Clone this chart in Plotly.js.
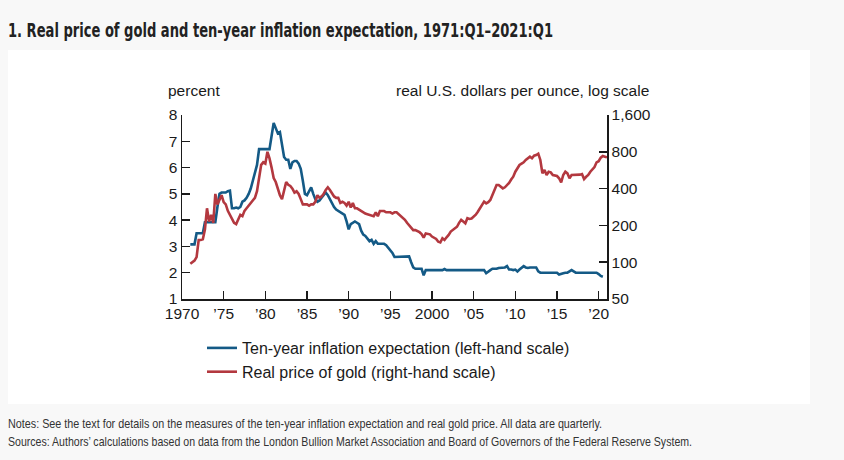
<!DOCTYPE html>
<html>
<head>
<meta charset="utf-8">
<script src="https://cdn.plot.ly/plotly-3.0.1.min.js"></script>
<style>
  html, body { margin: 0; padding: 0; background: #f8f8f8; }
  #chart { width: 844px; height: 460px; }
</style>
</head>
<body>
<div id="chart"></div>
<script>
// Quarterly series, first observation 1971:Q1
const startYear = 1971;

// Ten-year inflation expectation, percent (left-hand scale)
const inflationExpectation = [
  3.08, 3.08, 3.08, 3.5,   // 1971
  3.5, 3.5, 3.5, 3.92,     // 1972
  3.92, 3.92, 3.92, 3.92,  // 1973
  3.92, 4.5, 5.0, 5.05,    // 1974
  5.05, 5.05, 5.1, 5.12,   // 1975
  4.45, 4.45, 4.48, 4.45,  // 1976
  4.5, 4.7, 4.75, 4.85,    // 1977
  5.0, 5.2, 5.5, 5.8,      // 1978
  6.1, 6.7, 6.7, 6.7,      // 1979
  6.7, 6.7, 6.7, 7.2,      // 1980
  7.7, 7.5, 7.3, 7.35,     // 1981
  6.9, 6.4, 6.3, 6.3,      // 1982
  5.95, 6.2, 6.25, 6.25,   // 1983
  6.15, 5.95, 5.5, 5.0,    // 1984
  4.95, 5.1, 5.25, 5.0,    // 1985
  4.8, 4.7, 4.75, 4.85,    // 1986
  4.95, 5.05, 4.95, 4.8,   // 1987
  4.6, 4.5, 4.4, 4.35,     // 1988
  4.3, 4.25, 4.2, 3.95,    // 1989
  3.65, 3.85, 3.9, 3.95,   // 1990
  3.9, 3.85, 3.6, 3.45,    // 1991
  3.4, 3.3, 3.2, 3.25,     // 1992
  3.1, 3.2, 3.1, 3.1,      // 1993
  3.1, 3.1, 3.05, 2.95,    // 1994
  2.85, 2.75, 2.6, 2.6,    // 1995
  2.6, 2.6, 2.6, 2.6,      // 1996
  2.6, 2.62, 2.4, 2.2,     // 1997
  2.15, 2.15, 2.15, 2.15,  // 1998
  1.9, 2.1, 2.1, 2.1,      // 1999
  2.1, 2.1, 2.1, 2.1,      // 2000
  2.1, 2.1, 2.14, 2.1,     // 2001
  2.1, 2.1, 2.1, 2.08,     // 2002
  2.1, 2.1, 2.1, 2.1,      // 2003
  2.1, 2.08, 2.1, 2.1,     // 2004
  2.1, 2.1, 2.1, 2.1,      // 2005
  2.1, 2.1, 1.98, 2.05,    // 2006
  2.1, 2.15, 2.15, 2.15,   // 2007
  2.18, 2.18, 2.18, 2.2,   // 2008
  2.25, 2.12, 2.12, 2.1,   // 2009
  2.12, 2.05, 2.12, 2.18,  // 2010
  2.25, 2.2, 2.18, 2.2,    // 2011
  2.2, 2.2, 2.2, 2.05,     // 2012
  2.0, 2.0, 2.0, 2.0,      // 2013
  2.0, 2.0, 2.0, 2.0,      // 2014
  2.0, 1.93, 1.97, 1.98,   // 2015
  2.0, 2.0, 2.05, 2.1,     // 2016
  2.05, 2.0, 2.0, 2.0,     // 2017
  2.0, 2.0, 2.0, 2.0,      // 2018
  2.0, 2.0, 2.0, 2.0,      // 2019
  1.95, 1.88, 1.85         // 2020
];

// Real price of gold, real U.S. dollars per ounce (right-hand log scale)
const realGoldPrice = [
  97, 100, 103, 110,       // 1971
  152, 152, 154, 185,      // 1972
  276, 215, 244, 210,      // 1973
  362, 297, 320, 353,      // 1974
  310, 297, 263, 244,      // 1975
  221, 210, 205, 226,      // 1976
  244, 238, 263, 276,      // 1977
  290, 310, 320, 336,      // 1978
  381, 488, 625, 656,      // 1979
  640, 800, 707, 594,      // 1980
  488, 453, 400, 353,      // 1981
  328, 381, 453, 430,      // 1982
  420, 400, 371, 380,      // 1983
  362, 328, 297, 297,      // 1984
  297, 290, 297, 297,      // 1985
  312, 353, 336, 345,      // 1986
  362, 390, 410, 390,      // 1987
  371, 345, 336, 336,      // 1988
  305, 312, 305, 290,      // 1989
  312, 280, 305, 276,      // 1990
  276, 269, 262, 256,      // 1991
  250, 247, 244, 240,      // 1992
  238, 256, 238, 262,      // 1993
  262, 262, 256, 256,      // 1994
  256, 250, 256, 256,      // 1995
  247, 240, 230, 222,      // 1996
  210, 200, 189, 183,      // 1997
  183, 180, 176, 170,      // 1998
  159, 172, 170, 169,      // 1999
  162, 158, 155, 147,      // 2000
  145, 157, 152, 160,      // 2001
  167, 178, 183, 187,      // 2002
  195, 210, 222, 215,      // 2003
  208, 229, 226, 228,      // 2004
  236, 245, 259, 275,      // 2005
  294, 313, 303, 310,      // 2006
  323, 355, 400, 428,      // 2007
  428, 415, 402, 410,      // 2008
  428, 445, 475, 501,      // 2009
  550, 590, 624, 640,      // 2010
  656, 686, 708, 730,      // 2011
  708, 744, 753, 772,      // 2012
  686, 533, 568, 517,      // 2013
  550, 543, 517, 510,      // 2014
  507, 486, 450, 517,      // 2015
  550, 533, 486, 517,      // 2016
  517, 520, 517, 520,      // 2017
  526, 479, 500, 517,      // 2018
  550, 570, 600, 656,      // 2019
  670, 717, 740, 730,      // 2020
  720                      // 2021
];

// Axis ticks
const yearTicks = [1970, 1975, 1980, 1985, 1990, 1995, 2000, 2005, 2010, 2015, 2020];
const yearLabels = ["1970", "\u201975", "\u201980", "\u201985", "\u201990", "\u201995", "2000", "\u201905", "\u201910", "\u201915", "\u201920"];
const percentTicks = [1, 2, 3, 4, 5, 6, 7, 8];
const goldTicks = [50, 100, 200, 400, 800, 1600];
const goldLabels = ["50", "100", "200", "400", "800", "1,600"];

const titleText = "1. Real price of gold and ten-year inflation expectation, 1971:Q1\u20132021:Q1";
const notesText = "Notes: See the text for details on the measures of the ten-year inflation expectation and real gold price. All data are quarterly.";
const sourcesText = "Sources: Authors\u2019 calculations based on data from the London Bullion Market Association and Board of Governors of the Federal Reserve System.";

const quarterDate = i => startYear + i / 4;

const BLUE = "#145a86";
const RED = "#b3383f";
const INK = "#1a1a1a";
const sans = "Liberation Sans, Arial, sans-serif";
const heading = "DejaVu Sans, sans-serif";

// plot area in pixels: left 182, width 425, top 115, height 184
const px = v => (v - 182) / 425;
const py = v => (299 - v) / 184;

const traces = [
  {
    x: inflationExpectation.map((_, i) => quarterDate(i)),
    y: inflationExpectation,
    type: "scatter", mode: "lines",
    name: "Ten-year inflation expectation (left-hand scale)",
    line: { color: BLUE, width: 2.6 },
    yaxis: "y"
  },
  {
    x: realGoldPrice.map((_, i) => quarterDate(i)),
    y: realGoldPrice,
    type: "scatter", mode: "lines",
    name: "Real price of gold (right-hand scale)",
    line: { color: RED, width: 2.6 },
    yaxis: "y2"
  }
];

const axisCommon = {
  showgrid: false, zeroline: false,
  showline: true, linecolor: INK, linewidth: 1.5,
  ticks: "inside", ticklen: 8, tickwidth: 1.5, tickcolor: INK,
  tickfont: { family: sans, size: 15.5, color: INK }
};

const layout = {
  width: 844, height: 460,
  paper_bgcolor: "#f8f8f8",
  plot_bgcolor: "rgba(0,0,0,0)",
  margin: { l: 182, r: 237, t: 115, b: 161 },
  showlegend: true,
  legend: {
    x: px(202), y: py(331), xanchor: "left", yanchor: "top",
    bgcolor: "rgba(0,0,0,0)",
    font: { family: sans, size: 16, color: INK },
    tracegroupgap: 0, itemwidth: 30
  },
  title: {
    text: "<b>" + titleText + "</b>",
    font: { family: heading, size: 20, color: "#222" },
    xref: "container", yref: "container",
    x: 8 / 844, xanchor: "left",
    y: 1 - 30 / 460, yanchor: "middle"
  },
  xaxis: Object.assign({}, axisCommon, {
    range: [1970, 2021],
    tickmode: "array", tickvals: yearTicks, ticktext: yearLabels,
    ticklabelstandoff: 0
  }),
  yaxis: Object.assign({}, axisCommon, {
    range: [1, 8],
    tickmode: "array", tickvals: percentTicks,
    ticklabelstandoff: 0
  }),
  yaxis2: Object.assign({}, axisCommon, {
    type: "log", overlaying: "y", side: "right",
    range: [Math.log10(50), Math.log10(1600)],
    tickmode: "array", tickvals: goldTicks, ticktext: goldLabels,
    ticklabelstandoff: 0
  }),
  shapes: [
    {
      type: "rect", xref: "paper", yref: "paper", layer: "below",
      x0: px(8), x1: px(810), y0: py(404), y1: py(50),
      fillcolor: "#ffffff", line: { width: 0 }
    }
  ],
  annotations: [
    {
      text: "percent", xref: "paper", yref: "paper",
      x: px(166), y: py(90),
      xanchor: "left", yanchor: "middle", showarrow: false,
      font: { family: sans, size: 15.5, color: INK }
    },
    {
      text: "real U.S. dollars per ounce, log scale", xref: "paper", yref: "paper",
      x: px(651), y: py(90),
      xanchor: "right", yanchor: "middle", showarrow: false,
      font: { family: sans, size: 15.5, color: INK }
    },
    {
      text: notesText, xref: "paper", yref: "paper",
      x: px(6), y: py(423), align: "left",
      xanchor: "left", yanchor: "middle", showarrow: false,
      font: { family: sans, size: 13, color: "#333" }
    },
    {
      text: sourcesText, xref: "paper", yref: "paper",
      x: px(6), y: py(441), align: "left",
      xanchor: "left", yanchor: "middle", showarrow: false,
      font: { family: sans, size: 13, color: "#333" }
    }
  ]
};

// Condense the heading and footnote lines to fixed widths (narrow typeface look)
function condense(textEl, width) {
  if (!textEl) return;
  textEl.setAttribute("textLength", width);
  textEl.setAttribute("lengthAdjust", "spacingAndGlyphs");
}

Plotly.newPlot("chart", traces, layout, { staticPlot: true, displayModeBar: false }).then(gd => {
  condense(gd.querySelector("text.gtitle"), 545);
  const notes = Array.from(gd.querySelectorAll("text.annotation-text"));
  notes.forEach(t => {
    if (t.textContent === notesText) condense(t, 594);
    if (t.textContent === sourcesText) condense(t, 684);
  });
});
</script>
</body>
</html>
